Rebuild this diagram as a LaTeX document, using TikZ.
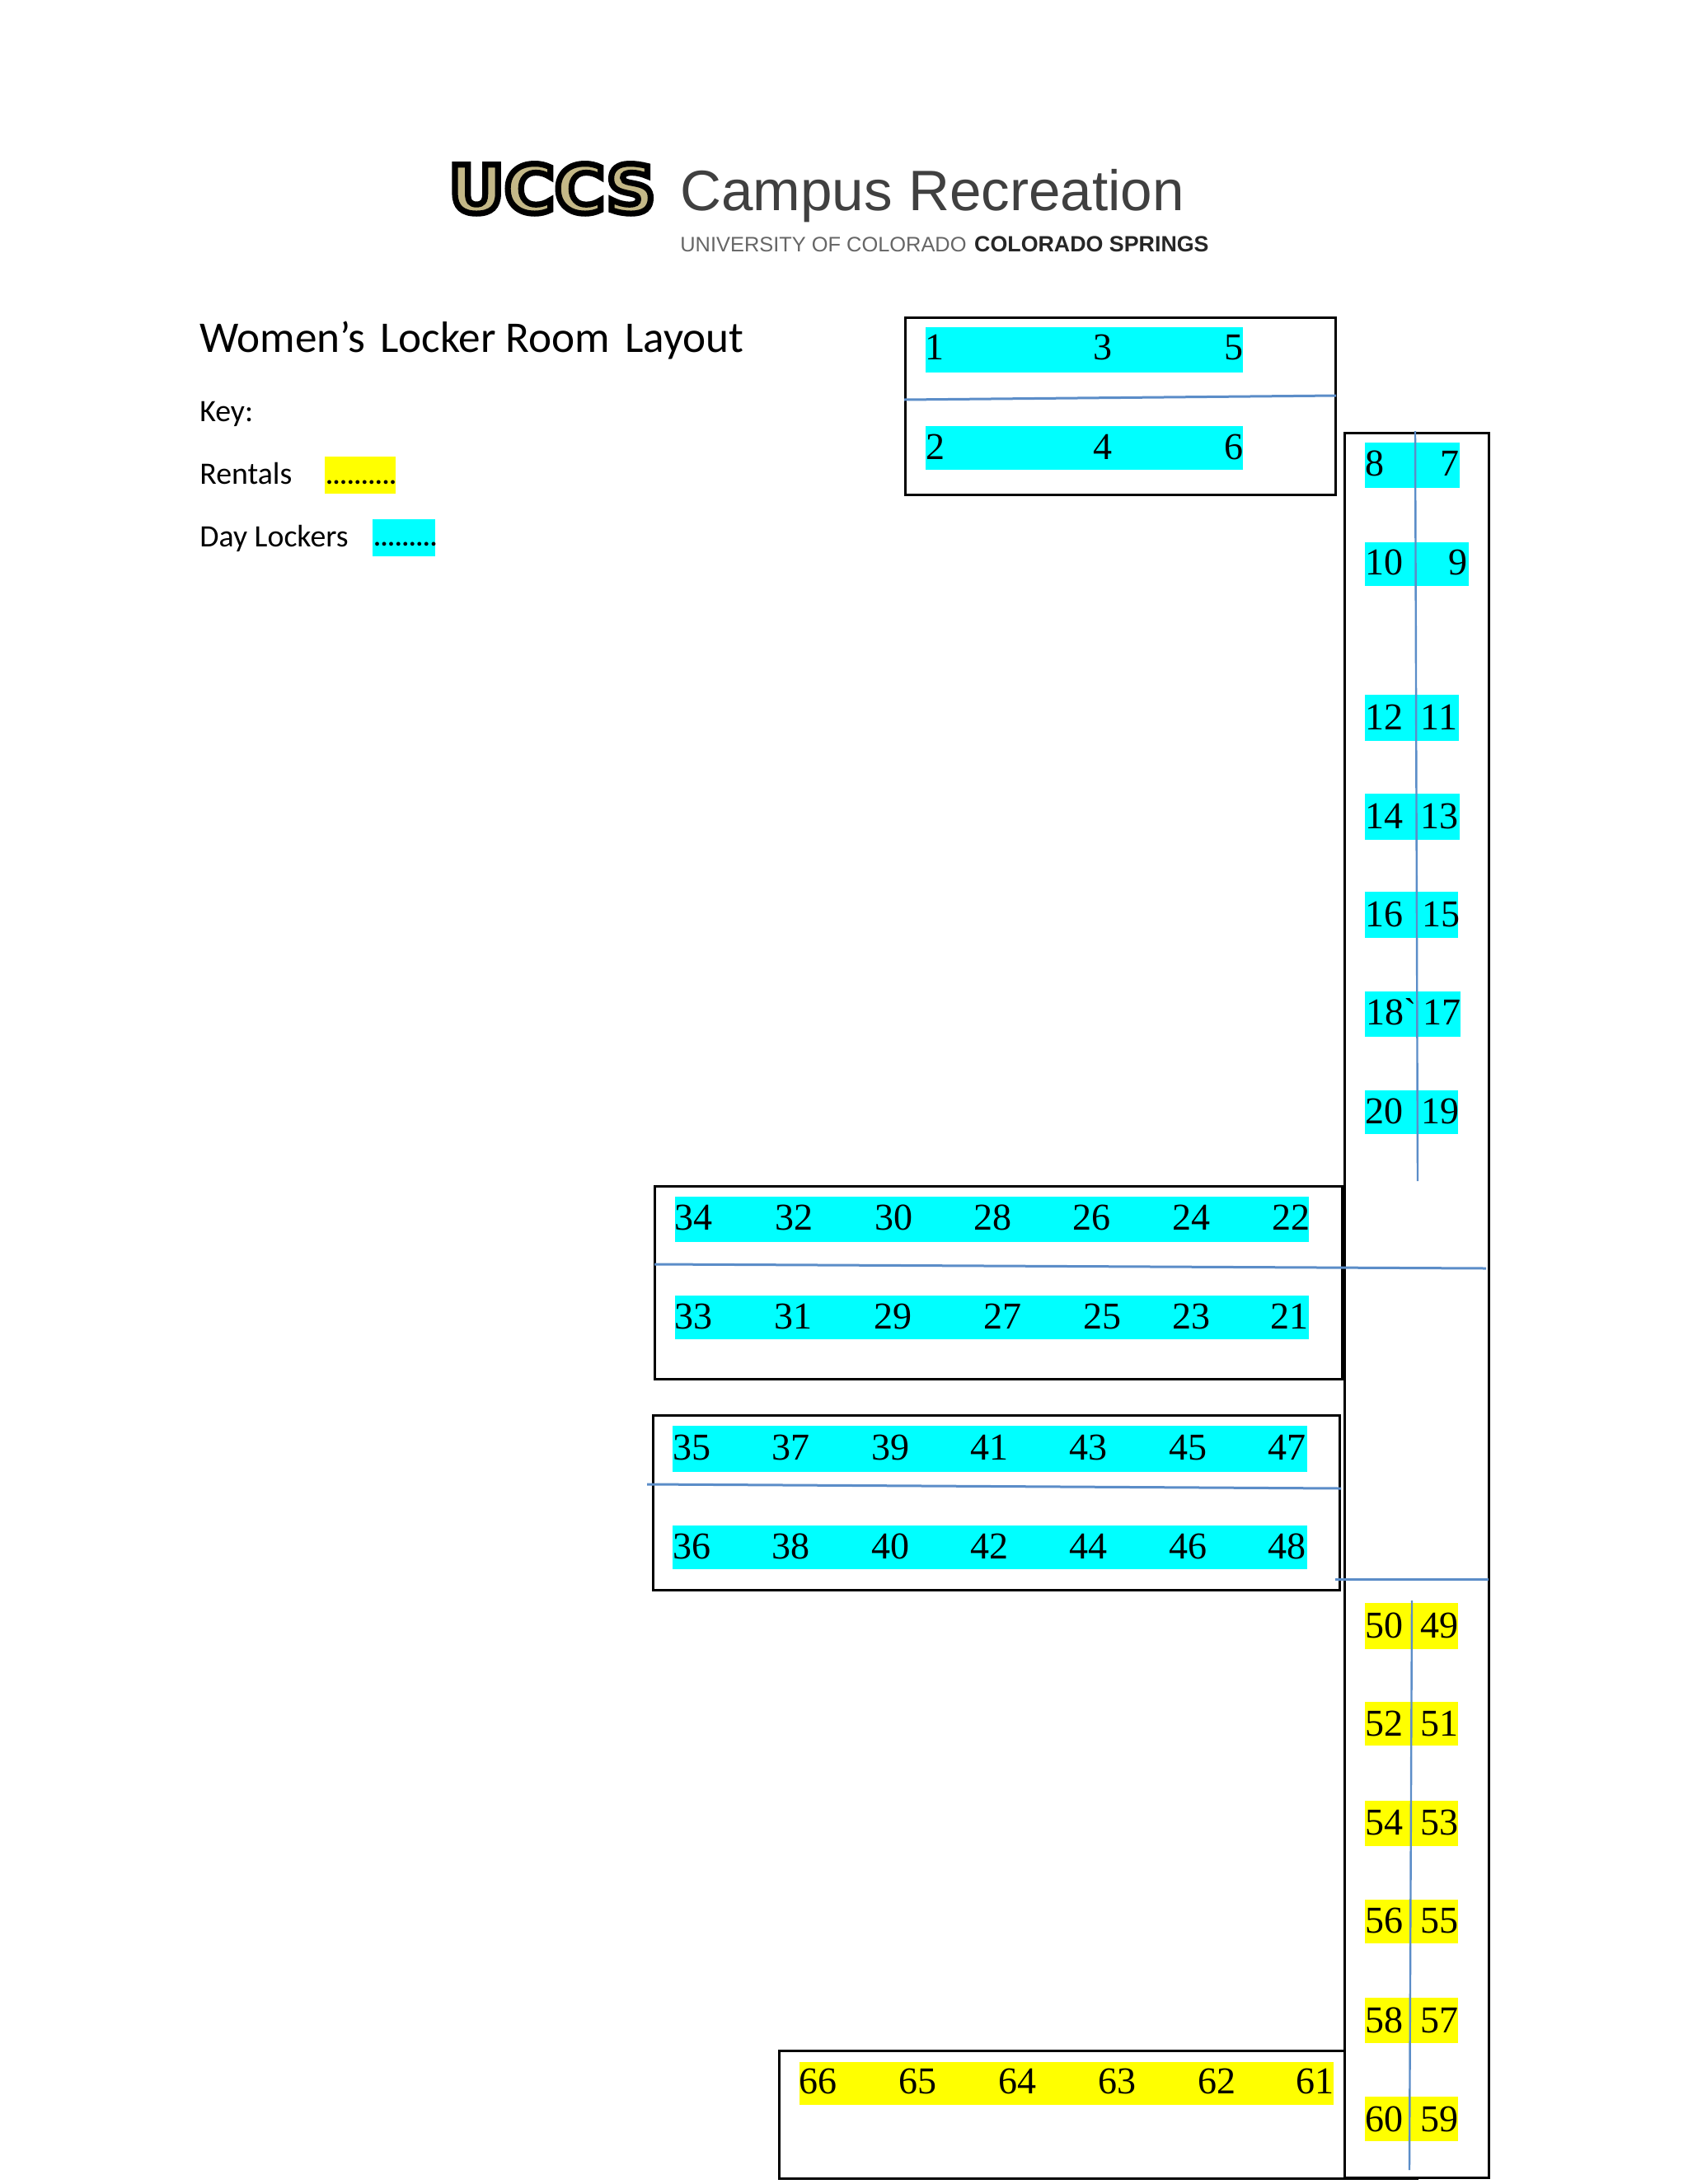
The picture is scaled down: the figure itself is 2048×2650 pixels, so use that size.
\documentclass[tikz,border=0pt]{standalone}
\usepackage{fontspec}
\usepackage{xcolor}
\setmainfont{Liberation Serif}
\newfontfamily\keyfont{Carlito}
\newfontfamily\logofont{Liberation Sans}
\newfontfamily\crestfont{DejaVu Sans Bold}[FakeBold=9, FakeStretch=1.04]
\definecolor{lockercyan}{RGB}{0,255,255}
\definecolor{lockeryellow}{RGB}{255,255,0}
\definecolor{dividerblue}{RGB}{91,141,200}
\tikzset{
  roombox/.style={draw=black, line width=1.5pt, fill=white},
  divider/.style={draw=dividerblue, line width=1.5pt},
  lockernum/.style={anchor=base, inner sep=0pt, font=\fontsize{23}{23}\selectfont},
  keytext/.style={anchor=base west, inner sep=0pt, font=\keyfont\fontsize{18.9}{18.9}\selectfont},
  keydots/.style={anchor=base west, inner sep=0pt, font=\keyfont\bfseries\fontsize{16}{16}\selectfont},
}
\begin{document}
\begin{tikzpicture}[x=0.5pt, y=-0.5pt]
\useasboundingbox (0,0) rectangle (2048,2650);
% logo
\node[anchor=base west, inner sep=0pt, font=\crestfont\fontsize{40}{40}\selectfont] (crest) at (544,258)
  {\special{pdf:bcolor [0.77 0.72 0.53] [0 0 0]}UCCS\special{pdf:ecolor}};
\node[anchor=base west, inner sep=0pt, text=black!75, font=\logofont\fontsize{34.6}{34.6}\selectfont] (logotitle) at (825,255) {Campus Recreation};
\node[anchor=base west, inner sep=0pt, text=black!60, font=\logofont\fontsize{12.7}{12.7}\selectfont] (logouni) at (825,305) {UNIVERSITY OF COLORADO};
\node[anchor=base east, inner sep=0pt, text=black!85, font=\logofont\bfseries\fontsize{13.4}{13.4}\selectfont] (logospr) at (1467,305) {COLORADO SPRINGS};
% heading and key
\node[keytext, font=\keyfont\fontsize{26.6}{26.6}\selectfont] (title) at (242,427) {Women’s\hspace{3pt} Locker Room\hspace{3pt} Layout};
\node[keytext] (key) at (242,511) {Key:};
\fill[lockeryellow] (394,554) rectangle (480,599);
\node[keytext] (rentals) at (242,587) {Rentals};
\node[keydots] (rentaldots) at (395,587) {..........};
\fill[lockercyan] (452,630) rectangle (528,675);
\node[keytext] (daylockers) at (242,663) {Day Lockers};
\node[keydots] (daydots) at (453,662) {.........};
% rooms
\draw[roombox] (1098,385) rectangle (1620,600);
\draw[roombox] (794,1439) rectangle (1628,1673);
\draw[roombox] (792,1717) rectangle (1625,1929);
\draw[roombox] (945,2488) rectangle (1719,2643);
\draw[roombox] (1631,525) rectangle (1806,2642);
% bands
\foreach \xa/\ya/\xb/\yb in {1123/397/1508/452, 1123/517/1508/570,
    1656/537/1771/592, 1656/658/1782/711, 1656/843/1770/899, 1656/963/1771/1019,
    1656/1082/1769/1138, 1656/1203/1772/1258, 1656/1323/1769/1376,
    819/1452/1588/1507, 819/1572/1588/1625, 816/1730/1586/1786, 816/1851/1586/1904}
  \fill[lockercyan] (\xa,\ya) rectangle (\xb,\yb);
\foreach \xa/\ya/\xb/\yb in {970/2502/1618/2554,
    1656/1945/1769/2001, 1656/2065/1769/2118, 1656/2185/1769/2240,
    1656/2305/1769/2358, 1656/2424/1769/2479, 1656/2544/1769/2598}
  \fill[lockeryellow] (\xa,\ya) rectangle (\xb,\yb);
% dividers
\coordinate (topa) at (1097,485);
\coordinate (topb) at (1621,480);
\coordinate (midl) at (794,1534);
\coordinate (midr) at (1803,1539);
\coordinate (lowl) at (785,1801);
\coordinate (lowr) at (1627,1806);
\coordinate (rentl) at (1620,1916);
\coordinate (rentr) at (1806,1916);
\coordinate (uppert) at (1717,523);
\coordinate (upperb) at (1720,1433);
\coordinate (lowert) at (1713,1942);
\coordinate (lowerb) at (1710,2633);
\draw[divider] (topa) -- (topb);
\draw[divider] (midl) -- (midr);
\draw[divider] (lowl) -- (lowr);
\draw[divider] (rentl) -- (rentr);
\draw[divider, line width=1.2pt] (uppert) -- (upperb);
\draw[divider, line width=1.2pt] (lowert) -- (lowerb);
% locker numbers
\foreach \num/\x/\y in {1/1134/436, 3/1338/436, 5/1497/436, 2/1135/557, 4/1338/557, 6/1497/557,
    8/1668/577, 7/1759/577, 10/1679/697, 9/1769/697,
    12/1679/885, 11/1746/885, 14/1679/1005, 13/1746/1005, 16/1679/1124, 15/1748/1124,
    17/1749/1243, 20/1679/1363, 19/1747/1363,
    34/841/1492, 32/963/1492, 30/1084/1492, 28/1204/1492, 26/1324/1492, 24/1445/1492, 22/1566/1492,
    33/841/1612, 31/962/1612, 29/1083/1612, 27/1216/1612, 25/1337/1612, 23/1445/1612, 21/1564/1612,
    35/839/1771, 37/959/1771, 39/1080/1771, 41/1200/1771, 43/1320/1771, 45/1441/1771, 47/1561/1771,
    36/839/1891, 38/959/1891, 40/1080/1891, 42/1200/1891, 44/1320/1891, 46/1441/1891, 48/1561/1891,
    50/1679/1987, 49/1746/1987, 52/1679/2106, 51/1746/2106, 54/1679/2226, 53/1746/2226,
    56/1679/2345, 55/1746/2345, 58/1679/2466, 57/1746/2466, 60/1679/2586, 59/1746/2586,
    66/992/2540, 65/1113/2540, 64/1234/2540, 63/1355/2540, 62/1476/2540, 61/1595/2540}
  \node[lockernum] (num\num) at (\x,\y) {\num};
\node[lockernum, anchor=base west] (num18) at (1657,1243) {18\textasciigrave};
\end{tikzpicture}
\end{document}
